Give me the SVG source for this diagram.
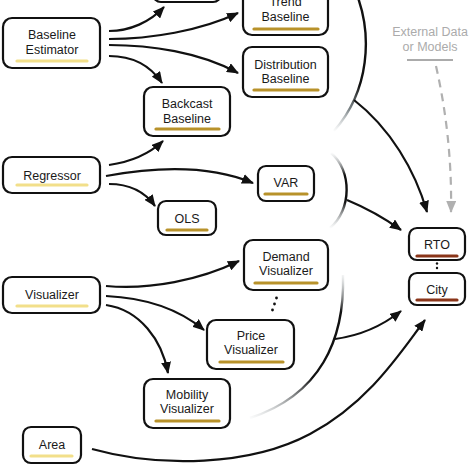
<svg xmlns="http://www.w3.org/2000/svg" width="474" height="474" viewBox="0 0 474 474">
<defs>
<style>
.box{fill:#fff;stroke:#111;stroke-width:2.2}
.t{font-family:"Liberation Sans",Arial,sans-serif;font-size:12.5px;fill:#1a1a1a;text-anchor:middle}
.src{stroke:#f2df8a;stroke-width:3.2;stroke-linecap:round}
.der{stroke:#b8922a;stroke-width:3.2;stroke-linecap:round}
.geo{stroke:#8a3519;stroke-width:3.2;stroke-linecap:round}
.c{fill:none;stroke:#111;stroke-width:2.2}
.ext{font-family:"Liberation Sans",Arial,sans-serif;font-size:12.5px;fill:#ababab;text-anchor:middle}
</style>
<marker id="ah" viewBox="0 0 12 10" markerWidth="12" markerHeight="10" refX="11" refY="5" orient="auto" markerUnits="userSpaceOnUse">
<path d="M0,0 L12,5 L0,10 z" fill="#111"/>
</marker>
<marker id="ahg" viewBox="0 0 12 10" markerWidth="12" markerHeight="10" refX="11" refY="5" orient="auto" markerUnits="userSpaceOnUse">
<path d="M0,0 L12,5 L0,10 z" fill="#b0b0b0"/>
</marker>
<linearGradient id="g1" gradientUnits="userSpaceOnUse" x1="0" y1="85" x2="0" y2="132">
<stop offset="0" stop-color="#111" stop-opacity="1"/>
<stop offset="0.5" stop-color="#555f63" stop-opacity="0.8"/>
<stop offset="1" stop-color="#9aa4a8" stop-opacity="0"/>
</linearGradient>
<linearGradient id="g2" gradientUnits="userSpaceOnUse" x1="0" y1="152" x2="0" y2="229">
<stop offset="0" stop-color="#9aa4a8" stop-opacity="0"/>
<stop offset="0.3" stop-color="#111" stop-opacity="1"/>
<stop offset="0.65" stop-color="#111" stop-opacity="1"/>
<stop offset="1" stop-color="#9aa4a8" stop-opacity="0"/>
</linearGradient>
<linearGradient id="g3" gradientUnits="userSpaceOnUse" x1="345" y1="272" x2="248" y2="420">
<stop offset="0" stop-color="#9aa4a8" stop-opacity="0"/>
<stop offset="0.2" stop-color="#111" stop-opacity="1"/>
<stop offset="0.6" stop-color="#111" stop-opacity="1"/>
<stop offset="1" stop-color="#9aa4a8" stop-opacity="0"/>
</linearGradient>
</defs>
<rect width="474" height="474" fill="#fff"/>

<g id="connectors">
<path class="c" d="M109,31 C130,31 150,22 164,7" marker-end="url(#ah)"/>
<path class="c" d="M109,39 C150,39 200,31 238,13" marker-end="url(#ah)"/>
<path class="c" d="M109,45 C150,45 200,52 238,73" marker-end="url(#ah)"/>
<path class="c" d="M109,56 C132,56 150,65 162,83" marker-end="url(#ah)"/>
<path class="c" d="M109,165 C130,162 148,155 163,141" marker-end="url(#ah)"/>
<path class="c" d="M106,176 C160,166 212,166 253,183" marker-end="url(#ah)"/>
<path class="c" d="M109,184 C130,184 145,192 155,206" marker-end="url(#ah)"/>
<path class="c" d="M106,286 C150,290 200,280 239,261" marker-end="url(#ah)"/>
<path class="c" d="M106,296 C150,298 180,310 204,330" marker-end="url(#ah)"/>
<path class="c" d="M106,305 C140,310 162,340 168,373" marker-end="url(#ah)"/>
<path fill="none" stroke="url(#g1)" stroke-width="2.4" d="M357,-5 C372,35 370,90 334,131"/>
<path fill="none" stroke="url(#g2)" stroke-width="2.4" d="M331,153 C352,170 352,210 330,228"/>
<path fill="none" stroke="url(#g3)" stroke-width="2.4" d="M343,275 C345,340 320,395 250,418"/>
<path class="c" d="M354,100 C390,128 415,170 427,212" marker-end="url(#ah)"/>
<path class="c" d="M347,200 Q376,212 401,230" marker-end="url(#ah)"/>
<path class="c" d="M335,339 Q372,334 401,311" marker-end="url(#ah)"/>
<path class="c" d="M92,449 C160,468 250,466 310,434 S402,350 425,320" marker-end="url(#ah)"/>
<path fill="none" stroke="#b0b0b0" stroke-width="2.2" stroke-dasharray="8,6" d="M436,66 C446,110 452,160 451,212" marker-end="url(#ahg)"/>
<g fill="#111">
<circle cx="276.5" cy="298" r="1.4"/>
<circle cx="274.5" cy="304" r="1.4"/>
<circle cx="272.5" cy="310" r="1.4"/>
<circle cx="437" cy="263.5" r="1.2"/>
<circle cx="437" cy="268" r="1.2"/>
</g>
</g>

<g id="top-partial">
<rect class="box" x="153" y="-30" width="68" height="32" rx="8"/>
</g>
<g id="baseline-estimator">
<rect class="box" x="3" y="18" width="97" height="50" rx="9"/>
<text class="t" x="52" y="39">Baseline</text>
<text class="t" x="52" y="54">Estimator</text>
<line class="src" x1="17" y1="61" x2="87" y2="61"/>
</g>
<g id="trend-baseline">
<rect class="box" x="243" y="-20" width="85" height="55" rx="9"/>
<text class="t" x="285.5" y="6">Trend</text>
<text class="t" x="285.5" y="21">Baseline</text>
<line class="der" x1="254" y1="29" x2="318" y2="29"/>
</g>
<g id="distribution-baseline">
<rect class="box" x="243" y="47" width="85" height="50" rx="9"/>
<text class="t" x="285.5" y="69">Distribution</text>
<text class="t" x="285.5" y="83">Baseline</text>
<line class="der" x1="254" y1="90" x2="318" y2="90"/>
</g>
<g id="backcast-baseline">
<rect class="box" x="144" y="87" width="86" height="49" rx="9"/>
<text class="t" x="187" y="108">Backcast</text>
<text class="t" x="187" y="123">Baseline</text>
<line class="der" x1="156" y1="129" x2="219" y2="129"/>
</g>
<g id="regressor">
<rect class="box" x="3" y="157" width="97" height="36" rx="9"/>
<text class="t" x="52" y="180">Regressor</text>
<line class="src" x1="17" y1="185" x2="87" y2="185"/>
</g>
<g id="ols">
<rect class="box" x="158" y="201" width="58" height="34" rx="8"/>
<text class="t" x="187" y="223">OLS</text>
<line class="der" x1="167" y1="230" x2="207" y2="230"/>
</g>
<g id="var">
<rect class="box" x="258" y="166" width="56" height="35" rx="8"/>
<text class="t" x="286" y="187">VAR</text>
<line class="der" x1="265" y1="194" x2="307" y2="194"/>
</g>
<g id="visualizer">
<rect class="box" x="3" y="277" width="97" height="36" rx="9"/>
<text class="t" x="52" y="299">Visualizer</text>
<line class="src" x1="17" y1="306" x2="87" y2="306"/>
</g>
<g id="demand-visualizer">
<rect class="box" x="244" y="240" width="84" height="50" rx="9"/>
<text class="t" x="286" y="261">Demand</text>
<text class="t" x="286" y="275">Visualizer</text>
<line class="der" x1="255" y1="283" x2="317" y2="283"/>
</g>
<g id="price-visualizer">
<rect class="box" x="207" y="320" width="87" height="49" rx="9"/>
<text class="t" x="251" y="340">Price</text>
<text class="t" x="251" y="354">Visualizer</text>
<line class="der" x1="220" y1="362" x2="283" y2="362"/>
</g>
<g id="mobility-visualizer">
<rect class="box" x="144" y="379" width="86" height="49" rx="9"/>
<text class="t" x="187" y="399">Mobility</text>
<text class="t" x="187" y="413">Visualizer</text>
<line class="der" x1="156" y1="421" x2="219" y2="421"/>
</g>
<g id="area">
<rect class="box" x="23" y="427" width="58" height="36" rx="8"/>
<text class="t" x="52" y="449">Area</text>
<line class="src" x1="31" y1="456" x2="72" y2="456"/>
</g>
<g id="rto">
<rect class="box" x="409" y="228" width="56" height="32" rx="8"/>
<text class="t" x="437" y="249">RTO</text>
<line class="geo" x1="417" y1="256" x2="457" y2="256"/>
</g>
<g id="city">
<rect class="box" x="409" y="273" width="56" height="32" rx="8"/>
<text class="t" x="437" y="294">City</text>
<line class="geo" x1="417" y1="300" x2="457" y2="300"/>
</g>
<g id="external">
<text class="ext" x="430" y="36">External Data</text>
<text class="ext" x="430" y="51">or Models</text>
<line x1="407" y1="60" x2="453" y2="60" stroke="#ababab" stroke-width="2"/>
</g>
</svg>
